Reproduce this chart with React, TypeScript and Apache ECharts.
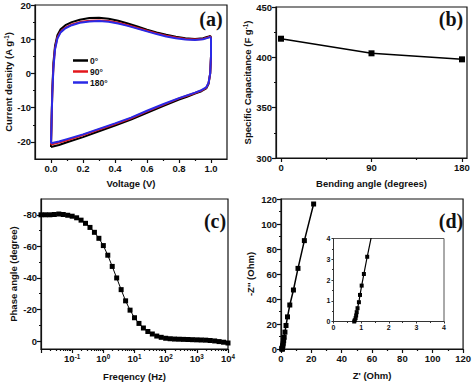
import React, { useEffect, useRef } from 'react';
import * as echarts from 'echarts';

// ---------- data ----------
const legendNames = ['0°', '90°', '180°'];

// CV loops [voltage V, current density A/g]
const cv0: number[][] = [
  [0, -21.5], [0.003, -15], [0.008, -5], [0.015, 3], [0.025, 8], [0.04, 11.2], [0.06, 12.9], [0.09, 14.1],
  [0.13, 15], [0.18, 15.7], [0.24, 16.2], [0.3, 16.3], [0.36, 16.0], [0.42, 15.4], [0.48, 14.6], [0.54, 13.7],
  [0.6, 12.8], [0.66, 12], [0.72, 11.3], [0.78, 10.7], [0.84, 10.3], [0.9, 10.1], [0.95, 10.3], [0.98, 10.7],
  [0.995, 11], [1.0, 10.5], [1.0, 5], [0.995, 0], [0.985, -3], [0.97, -4.4], [0.94, -5.2], [0.9, -5.9],
  [0.85, -6.8], [0.8, -7.6], [0.7, -9.5], [0.6, -11.5], [0.5, -13.5], [0.4, -15.2], [0.3, -16.9], [0.2, -18.6],
  [0.1, -20.1], [0.05, -20.9], [0, -21.5],
];
const cv90: number[][] = [
  [0, -20.8], [0.003, -15], [0.008, -6], [0.015, 2], [0.025, 7.3], [0.04, 10.5], [0.06, 12.2], [0.09, 13.4],
  [0.13, 14.3], [0.18, 15], [0.24, 15.4], [0.3, 15.5], [0.36, 15.3], [0.42, 14.8], [0.48, 14.1], [0.54, 13.3],
  [0.6, 12.5], [0.66, 11.7], [0.72, 11.0], [0.78, 10.5], [0.84, 10.1], [0.9, 9.9], [0.95, 10.1], [0.98, 10.5],
  [0.995, 10.8], [1, 10.3], [1, 5], [0.995, 0], [0.985, -2.8], [0.97, -4.2], [0.94, -5.0], [0.9, -5.7],
  [0.85, -6.5], [0.8, -7.3], [0.7, -9.2], [0.6, -11.1], [0.5, -13.1], [0.4, -14.8], [0.3, -16.4], [0.2, -18.0],
  [0.1, -19.5], [0.05, -20.2], [0, -20.8],
];
const cv180: number[][] = [
  [0, -20.4], [0.003, -15], [0.008, -6], [0.015, 1.5], [0.025, 7], [0.04, 10.2], [0.06, 12], [0.09, 13.2],
  [0.13, 14.1], [0.18, 14.8], [0.24, 15.2], [0.3, 15.3], [0.36, 15.1], [0.42, 14.6], [0.48, 13.9], [0.54, 13.1],
  [0.6, 12.3], [0.66, 11.5], [0.72, 10.8], [0.78, 10.3], [0.84, 9.9], [0.9, 9.8], [0.95, 10], [0.98, 10.4],
  [0.995, 10.7], [1, 10.2], [1, 5], [0.995, 0], [0.985, -2.7], [0.97, -4.1], [0.94, -4.9], [0.9, -5.6],
  [0.85, -6.4], [0.8, -7.2], [0.7, -9.0], [0.6, -10.9], [0.5, -12.9], [0.4, -14.6], [0.3, -16.2], [0.2, -17.8],
  [0.1, -19.2], [0.05, -19.9], [0, -20.4],
];

const bendAngles = [0, 90, 180];
const capacitance = [418.5, 404, 398];

const freqHz = [
  0.01, 0.0139, 0.0193, 0.0268, 0.0373, 0.0518, 0.072, 0.1, 0.139, 0.193, 0.268, 0.373, 0.518, 0.72,
  1, 1.39, 1.93, 2.68, 3.73, 5.18, 7.2, 10, 13.9, 19.3, 26.8, 37.3, 51.8, 72, 100, 139, 193, 268, 373,
  518, 720, 1000, 1390, 1930, 2680, 3730, 5180, 7200, 10000,
];
const phaseDeg = [
  -80, -80, -80, -80.2, -80.5, -80.2, -79.7, -79.1, -78.1, -76.6, -74.6, -72.0, -68.9, -65.1, -60.5,
  -54.4, -47.3, -40.0, -32.6, -25.5, -19.6, -14.8, -11.2, -8.3, -6.1, -4.5, -3.2, -2.4, -1.8, -1.5,
  -1.3, -1.2, -1.1, -1.0, -0.9, -0.8, -0.7, -0.6, -0.4, -0.1, 0.3, 0.7, 1.2,
];

const zRe = [0.75, 0.77, 0.8, 0.82, 0.84, 0.87, 0.92, 0.96, 1.02, 1.1, 1.22, 1.45, 1.75, 2.1, 2.6, 3.3, 4.3, 5.8, 8.2, 11.2, 15.4, 21.5];
const zIm = [0, 0.06, 0.16, 0.29, 0.45, 0.64, 0.93, 1.28, 1.73, 2.29, 3.12, 4.6, 6.6, 9.4, 13.5, 18.8, 25.7, 35.2, 47.2, 64.5, 86.7, 116];

// tick values
const voltTicks = [0, 0.2, 0.4, 0.6, 0.8, 1.0];
const voltMinor = [0.1, 0.3, 0.5, 0.7, 0.9];
const currTicks = [-20, -10, 0, 10, 20];
const currMinor = [-15, -5, 5, 15];
const bendTicks = [0, 90, 180];
const bendMinor = [45, 135];
const phaseTicks = [-80, -60, -40, -20, 0];
const phaseMinor = [-70, -50, -30, -10];

const FONT = '"Liberation Sans", Arial, sans-serif';
const AX = '#111';
const TXT = '#111';

const lineStyle = { color: AX, width: 1.2 };
const labelStyle = { color: TXT, fontWeight: 'bold' as const, fontSize: 9.5, fontFamily: FONT };
const supStyle = { fontSize: 6.3, fontWeight: 'bold', fontFamily: FONT, color: TXT, verticalAlign: 'top', padding: [0, 0, 4, 0] };
const nameStyle = {
  color: TXT, fontWeight: 'bold' as const, fontSize: 9.5, fontFamily: FONT,
  rich: { sup: supStyle },
};

function mainAxis(o: any) {
  return {
    type: 'value',
    axisLine: { show: true, onZero: false, lineStyle },
    axisTick: { show: true, length: 4, lineStyle, ...(o.tickValues ? { customValues: o.tickValues } : {}) },
    minorTick: { show: !!o.minor, splitNumber: 2, length: 2, lineStyle },
    axisLabel: { show: true, margin: 4, ...labelStyle, ...(o.tickValues ? { customValues: o.tickValues } : {}), ...(o.label || {}) },
    splitLine: { show: false },
    minorSplitLine: { show: false },
    nameLocation: 'middle',
    nameTextStyle: nameStyle,
    ...o.rest,
  };
}
function minorAxis(o: any) {
  return {
    type: 'value',
    axisLine: { show: false, onZero: false },
    axisTick: { show: true, length: 2, lineStyle, customValues: o.values },
    axisLabel: { show: false },
    splitLine: { show: false },
    ...o.rest,
  };
}

export default function App() {
  const ref = useRef<HTMLDivElement>(null);
  useEffect(() => {
    document.body.style.margin = '0';
    const chart = echarts.init(ref.current!, null, { renderer: 'svg' });

    const logMinor: number[] = [];
    for (let d = -2; d < 4; d++) for (let k = 2; k <= 9; k++) logMinor.push(d + Math.log10(k));

    const grids = [
      { left: 35, top: 5, width: 192, height: 154 },
      { left: 276, top: 7, width: 191, height: 151 },
      { left: 41, top: 199, width: 187, height: 150 },
      { left: 281, top: 199, width: 184, height: 150 },
      { left: 333.5, top: 238.5, width: 110.5, height: 83 },
    ].map((g) => ({ ...g, show: true, borderColor: AX, borderWidth: 1.2, backgroundColor: 'transparent' }));
    grids[4].borderWidth = 1;
    (grids[4] as any).borderColor = '#555';

    const insetLine = { color: '#333', width: 1 };

    const xAxis: any[] = [
      mainAxis({ tickValues: voltTicks, label: { formatter: (v: number) => v.toFixed(1) },
        rest: { gridIndex: 0, min: -0.1, max: 1.1, name: 'Voltage (V)', nameGap: 19, position: 'bottom' } }),
      minorAxis({ values: voltMinor, rest: { gridIndex: 0, min: -0.1, max: 1.1, position: 'bottom' } }),
      mainAxis({ tickValues: bendTicks, rest: { gridIndex: 1, min: -5, max: 185, name: 'Bending angle (degrees)', nameGap: 20, position: 'bottom' } }),
      minorAxis({ values: bendMinor, rest: { gridIndex: 1, min: -5, max: 185, position: 'bottom' } }),
      {
        type: 'log', logBase: 10, gridIndex: 2, min: 0.01, max: 10000, position: 'bottom',
        axisLine: { show: true, onZero: false, lineStyle },
        axisTick: { show: true, length: 4, lineStyle },
        axisLabel: {
          show: true, margin: 4, ...labelStyle,
          formatter: (v: number) => {
            const e = Math.round(Math.log10(v));
            return e <= -2 ? '' : `10{sup|${e}}`;
          },
          rich: { sup: supStyle },
        },
        splitLine: { show: false },
        name: 'Freqency (Hz)', nameLocation: 'middle', nameGap: 22, nameTextStyle: nameStyle,
      },
      minorAxis({ values: logMinor, rest: { gridIndex: 2, min: -2, max: 4, position: 'bottom' } }),
      mainAxis({ minor: true, rest: { gridIndex: 3, min: 0, max: 120, interval: 20, name: "Z' (Ohm)", nameGap: 21, position: 'bottom' } }),
      {
        type: 'value', gridIndex: 4, min: 0, max: 4, interval: 1, position: 'bottom',
        axisLine: { show: true, onZero: false, lineStyle: insetLine },
        axisTick: { show: true, length: 2, lineStyle: insetLine },
        minorTick: { show: true, splitNumber: 2, length: 1.5, lineStyle: insetLine },
        axisLabel: { show: true, margin: 2, ...labelStyle, fontSize: 7 },
        splitLine: { show: false },
      },
    ];

    const yAxis: any[] = [
      mainAxis({ tickValues: currTicks, rest: { gridIndex: 0, min: -25, max: 20, position: 'left', name: 'Current density (A g{sup|-1})', nameGap: 21 } }),
      minorAxis({ values: currMinor, rest: { gridIndex: 0, min: -25, max: 20, position: 'left' } }),
      mainAxis({ minor: true, rest: { gridIndex: 1, min: 300, max: 450, interval: 50, position: 'left', name: 'Specific Capacitance (F g{sup|-1})', nameGap: 22 } }),
      mainAxis({ tickValues: phaseTicks, rest: { gridIndex: 2, min: -90, max: 5, inverse: true, position: 'left', name: 'Phase angle (degree)', nameGap: 23 } }),
      minorAxis({ values: phaseMinor, rest: { gridIndex: 2, min: -90, max: 5, inverse: true, position: 'left' } }),
      mainAxis({ minor: true, rest: { gridIndex: 3, min: 0, max: 120, interval: 20, position: 'left', name: "-Z'' (Ohm)", nameGap: 26 } }),
      {
        type: 'value', gridIndex: 4, min: 0, max: 4, interval: 1, position: 'left',
        axisLine: { show: true, onZero: false, lineStyle: insetLine },
        axisTick: { show: true, length: 2, lineStyle: insetLine },
        minorTick: { show: true, splitNumber: 2, length: 1.5, lineStyle: insetLine },
        axisLabel: { show: true, margin: 3, ...labelStyle, fontSize: 7 },
        splitLine: { show: false },
      },
    ];

    const cvSeries = (name: string, data: number[][], color: string) => ({
      name, type: 'line', xAxisIndex: 0, yAxisIndex: 0, data, showSymbol: false, symbol: 'none',
      lineStyle: { color, width: 2 }, itemStyle: { color }, smooth: false,
    });
    const nyq = zRe.map((x, i) => [x, zIm[i]]);

    const series: any[] = [
      cvSeries(legendNames[0], cv0, '#000000'),
      cvSeries(legendNames[1], cv90, '#e3171c'),
      cvSeries(legendNames[2], cv180, '#2a2ae6'),
      {
        name: 'cap', type: 'line', xAxisIndex: 2, yAxisIndex: 2,
        data: bendAngles.map((a, i) => [a, capacitance[i]]),
        symbol: 'rect', symbolSize: 6, lineStyle: { color: '#000', width: 1.5 }, itemStyle: { color: '#000' },
      },
      {
        name: 'phase', type: 'line', xAxisIndex: 4, yAxisIndex: 3,
        data: freqHz.map((f, i) => [f, phaseDeg[i]]),
        symbol: 'rect', symbolSize: 5, lineStyle: { color: '#000', width: 1 }, itemStyle: { color: '#000' },
      },
      {
        name: 'nyq', type: 'line', xAxisIndex: 6, yAxisIndex: 5, data: nyq,
        symbol: 'rect', symbolSize: 5, lineStyle: { color: '#000', width: 1.5 }, itemStyle: { color: '#000' },
      },
      {
        name: 'nyqInset', type: 'line', xAxisIndex: 7, yAxisIndex: 6, data: nyq, clip: true,
        symbol: 'rect', symbolSize: 4, lineStyle: { color: '#000', width: 1.2 }, itemStyle: { color: '#000' },
      },
    ];

    const panelLabel = (t: string, x: number, y: number) => ({
      type: 'text', x, y,
      style: { text: t, fontSize: 20, fontWeight: 'bold', fontFamily: '"Liberation Serif", "Times New Roman", serif', fill: '#111', textAlign: 'center', textVerticalAlign: 'middle' },
    });

    chart.setOption({
      animation: false,
      backgroundColor: '#fff',
      grid: grids,
      xAxis,
      yAxis,
      series,
      legend: {
        data: legendNames, orient: 'vertical', left: 73, top: 56, itemWidth: 15, itemHeight: 2.5, itemGap: 2,
        icon: 'rect', padding: 0,
        textStyle: { color: TXT, fontWeight: 'bold', fontSize: 8.5, fontFamily: FONT, padding: [0, 0, 0, -3] },
      },
      graphic: [
        panelLabel('(a)', 211, 19),
        panelLabel('(b)', 451, 19),
        panelLabel('(c)', 215, 221),
        panelLabel('(d)', 451, 221),
      ],
    });
    return () => chart.dispose();
  }, []);
  return <div ref={ref} style={{ width: 474, height: 383 }} />;
}
